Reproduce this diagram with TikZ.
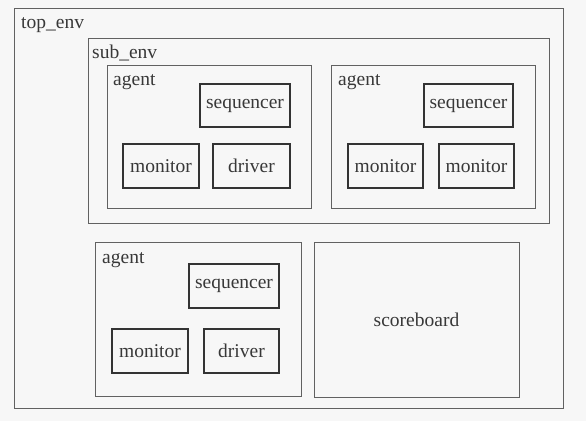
\documentclass[tikz,border=0pt]{standalone}
\usepackage{fontspec}
\setmainfont{Liberation Serif}
\begin{document}
\begin{tikzpicture}[x=1pt,y=-1pt,
  every node/.style={text=black!78},
  frame/.style={draw=black!62, line width=0.9pt, inner sep=0pt, rectangle},
  unit/.style={draw=black!80, line width=2.2pt, inner sep=0pt, rectangle, font=\fontsize{19.5}{23}\selectfont},
  tag/.style={anchor=base west, inner sep=0pt, font=\fontsize{19.5}{23}\selectfont}]
\fill[white!97!black] (0,0) rectangle (586,421);
\useasboundingbox (0,0) rectangle (586,421);
% outer frames
\node[frame, minimum width=549pt, minimum height=400pt] (top) at (288.5,208) {};
\node[frame, minimum width=461pt, minimum height=185pt] (sub) at (318.5,130.5) {};
\node[frame, minimum width=204pt, minimum height=143pt] (ag1) at (209,136.5) {};
\node[frame, minimum width=204pt, minimum height=143pt] (ag2) at (433,136.5) {};
\node[frame, minimum width=206pt, minimum height=154pt] (ag3) at (198,319) {};
\node[frame, minimum width=205pt, minimum height=155pt, font=\fontsize{19.5}{23}\selectfont] (score) at (416.5,319.5) {scoreboard};
% labels
\node[tag] (ltop) at (21,28) {top\_env};
\node[tag] (lsub) at (92,58) {sub\_env};
\node[tag] (lag1) at (113,85) {agent};
\node[tag] (lag2) at (338,85) {agent};
\node[tag] (lag3) at (102,263) {agent};
% agent 1
\node[unit, minimum width=90pt, minimum height=43pt] (seq1) at (245,105.5) {sequencer};
\node[unit, minimum width=76pt, minimum height=44pt] (mon1) at (161,166) {monitor};
\node[unit, minimum width=77pt, minimum height=44pt] (drv1) at (251.5,166) {driver};
% agent 2
\node[unit, minimum width=89pt, minimum height=43pt] (seq2) at (468.5,105.5) {sequencer};
\node[unit, minimum width=75pt, minimum height=44pt] (mon2a) at (385.5,166) {monitor};
\node[unit, minimum width=75pt, minimum height=44pt] (mon2b) at (476.5,166) {monitor};
% agent 3
\node[unit, minimum width=90pt, minimum height=44pt] (seq3) at (234,286) {sequencer};
\node[unit, minimum width=76pt, minimum height=44pt] (mon3) at (150,351) {monitor};
\node[unit, minimum width=75pt, minimum height=44pt] (drv3) at (241.5,351) {driver};
\end{tikzpicture}
\end{document}
